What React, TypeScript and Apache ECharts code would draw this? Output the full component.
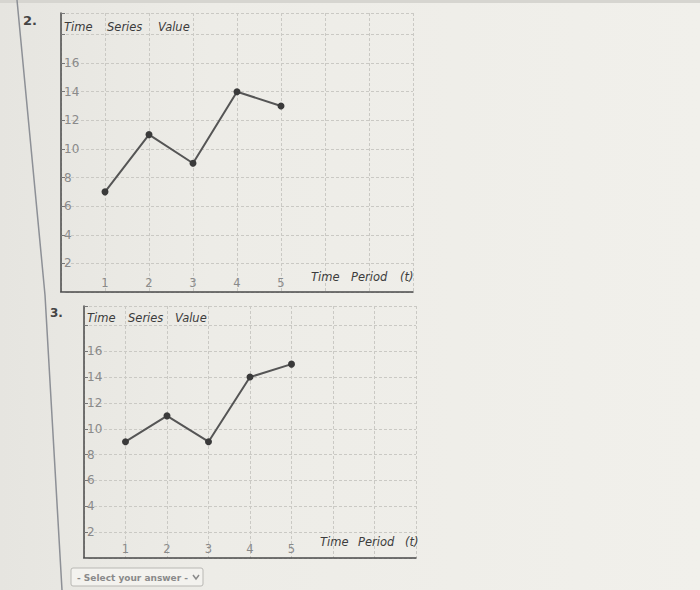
import React, { useEffect, useRef } from "react";
import * as echarts from "echarts";

// ---- data ----
const timePeriods = [1, 2, 3, 4, 5];
const valuesQ2 = [7, 11, 9, 14, 13];
const valuesQ3 = [9, 11, 9, 14, 15];
const yTickLabels = [2, 4, 6, 8, 10, 12, 14, 16];
const xTickLabels = [1, 2, 3, 4, 5];
const yAxisTitle = ["Time", "Series", "Value"];
const xAxisTitle = ["Time", "Period", "(t)"];
const questionNumbers = ["2.", "3."];
const dropdownText = "- Select your answer -";

const FONT = "DejaVu Sans";
const AXIS_COLOR = "#4a4a4a";
const GRID_COLOR = "#cac9c4";
const LABEL_COLOR = "#8a8a8a";
const TITLE_COLOR = "#3c3c3c";

function makeAxes(gridIndex: number) {
  const xAxis = {
    type: "value",
    gridIndex,
    min: 0,
    max: 8,
    interval: 1,
    axisLine: { show: true, onZero: false, lineStyle: { color: AXIS_COLOR, width: 1.5 } },
    axisTick: { show: false },
    splitLine: { show: true, lineStyle: { color: GRID_COLOR, type: [3, 2], width: 1 } },
    axisLabel: {
      inside: true,
      margin: 3,
      color: LABEL_COLOR,
      fontFamily: FONT,
      fontSize: 11.5,
      formatter: (v: number) => (xTickLabels.includes(v) ? String(v) : ""),
    },
  };
  const yAxis = {
    type: "value",
    gridIndex,
    min: 0,
    max: 19.5,
    interval: 2,
    axisLine: { show: true, onZero: false, lineStyle: { color: AXIS_COLOR, width: 1.5 } },
    axisTick: { show: true, inside: true, length: 4, lineStyle: { color: "#777" } },
    splitLine: { show: true, lineStyle: { color: GRID_COLOR, type: [3, 2], width: 1 } },
    axisLabel: {
      inside: true,
      margin: 3,
      color: LABEL_COLOR,
      fontFamily: FONT,
      fontSize: 12,
      formatter: (v: number) => (yTickLabels.includes(v) ? String(v) : ""),
    },
  };
  return { xAxis, yAxis };
}

function makeSeries(values: number[], idx: number) {
  return {
    type: "line",
    xAxisIndex: idx,
    yAxisIndex: idx,
    data: timePeriods.map((t, i) => [t, values[i]]),
    symbol: "circle",
    symbolSize: 7,
    itemStyle: { color: "#3a3a3a" },
    lineStyle: { color: "#555", width: 2 },
    z: 5,
  };
}

function italicText(text: string, x: number, y: number) {
  return {
    type: "text",
    x,
    y,
    style: {
      text,
      fill: TITLE_COLOR,
      font: `italic 11.5px "${FONT}"`,
      verticalAlign: "middle",
    },
    z: 10,
  };
}

export default function App() {
  const ref = useRef<HTMLDivElement>(null);
  useEffect(() => {
    if (!ref.current) return;
    const chart = echarts.init(ref.current, undefined, { renderer: "svg" });
    const a0 = makeAxes(0);
    const a1 = makeAxes(1);

    const topTitleX = [64, 107, 158];
    const botTitleX = [87, 128, 175];
    const topPeriodX = [311, 351, 400];
    const botPeriodX = [320, 358, 405];

    const graphic: any[] = [
      {
        type: "rect",
        shape: { x: 0, y: 0, width: 700, height: 3 },
        style: { fill: "#d6d5d0" },
        z: -1,
      },
      {
        type: "polyline",
        shape: { points: [[17, 0], [45, 295], [62, 590]] },
        style: { stroke: "#8d9096", lineWidth: 1.5, fill: null },
      },
      {
        type: "text",
        x: 23,
        y: 20,
        style: { text: questionNumbers[0], fill: "#444", font: `bold 13px "${FONT}"`, verticalAlign: "middle" },
      },
      {
        type: "text",
        x: 50,
        y: 313,
        style: { text: questionNumbers[1], fill: "#444", font: `bold 12px "${FONT}"`, verticalAlign: "middle" },
      },
      {
        type: "rect",
        shape: { x: 71, y: 568, width: 132, height: 18, r: 2 },
        style: { fill: "#f3f2ee", stroke: "#b9b8b4", lineWidth: 1 },
      },
      {
        type: "text",
        x: 77,
        y: 577.5,
        style: { text: dropdownText, fill: "#8a8a8a", font: `bold 9px "${FONT}"`, verticalAlign: "middle" },
      },
      {
        type: "polyline",
        shape: { points: [[193, 575], [196, 579], [199, 575]] },
        style: { stroke: "#8a8a8a", lineWidth: 1.5, fill: null },
      },
    ];
    yAxisTitle.forEach((t, i) => graphic.push(italicText(t, topTitleX[i], 27)));
    yAxisTitle.forEach((t, i) => graphic.push(italicText(t, botTitleX[i], 318)));
    xAxisTitle.forEach((t, i) => graphic.push(italicText(t, topPeriodX[i], 277)));
    xAxisTitle.forEach((t, i) => graphic.push(italicText(t, botPeriodX[i], 542)));

    chart.setOption({
      animation: false,
      backgroundColor: "transparent",
      grid: [
        { left: 61, top: 13, width: 352, height: 279 },
        { left: 84, top: 306, width: 332, height: 252 },
      ],
      xAxis: [a0.xAxis, a1.xAxis],
      yAxis: [a0.yAxis, a1.yAxis],
      series: [makeSeries(valuesQ2, 0), makeSeries(valuesQ3, 1)],
      graphic,
    });
    return () => chart.dispose();
  }, []);

  return (
    <div
      style={{
        position: "fixed",
        left: 0,
        top: 0,
        width: 700,
        height: 590,
        background: "linear-gradient(90deg, #e6e5e0 0%, #edece7 30%, #f1f0eb 100%)",
      }}
    >
      <div ref={ref} style={{ width: 700, height: 590 }} />
    </div>
  );
}
